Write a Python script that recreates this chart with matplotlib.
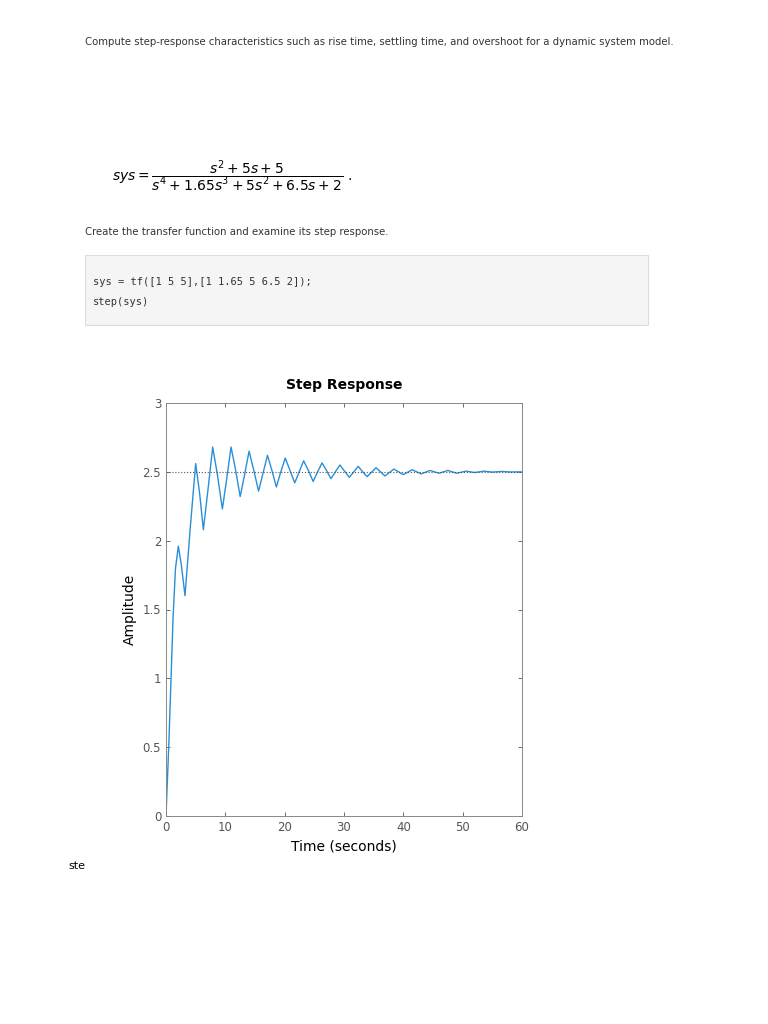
import numpy as np
import matplotlib.pyplot as plt
from matplotlib.patches import Rectangle

# step response (peaks, troughs and crossings)
t = [0, 0.5, 1.2, 1.6, 2.08, 2.6, 3.2, 4.1, 5.0, 5.65, 6.3, 7.1, 7.87, 8.7, 9.5, 10.2,
     10.96, 11.7, 12.5, 13.25, 14.0, 14.8, 15.6, 16.35, 17.1, 17.85, 18.6, 19.35, 20.1,
     20.9, 21.7, 22.45, 23.2, 24.0, 24.8, 25.55, 26.3, 27.05, 27.8, 28.55, 29.3, 30.1,
     30.9, 31.65, 32.4, 33.15, 33.9, 35.4, 36.9, 38.4, 40.0, 41.5, 43.0, 44.5, 46.0,
     47.5, 49.0, 50.6, 52.0, 53.6, 55.0, 56.6, 58.0, 60.0]
amp = [0, 0.55, 1.45, 1.8, 1.96, 1.82, 1.60, 2.1, 2.56, 2.35, 2.08, 2.38, 2.68, 2.47, 2.23, 2.44,
       2.68, 2.52, 2.32, 2.48, 2.65, 2.51, 2.36, 2.49, 2.62, 2.51, 2.39, 2.50, 2.60,
       2.51, 2.42, 2.50, 2.58, 2.51, 2.43, 2.50, 2.565, 2.51, 2.45, 2.50, 2.55, 2.505,
       2.46, 2.50, 2.54, 2.50, 2.465, 2.53, 2.47, 2.52, 2.48, 2.515, 2.485, 2.51, 2.49,
       2.51, 2.49, 2.505, 2.495, 2.505, 2.498, 2.503, 2.499, 2.5]
xticks = [0, 10, 20, 30, 40, 50, 60]
yticks = [0, 0.5, 1, 1.5, 2, 2.5, 3]

W, H = 768, 1024
fig = plt.figure(figsize=(W / 100, H / 100), dpi=100)
fig.patch.set_facecolor('white')

def fx(px):
    return px / W

def fy(py):
    return 1 - py / H

fig.text(fx(85), fy(42), 'Compute step-response characteristics such as rise time, settling time, and overshoot for a dynamic system model.',
         fontsize=7.3, color='#333333', va='center', family='Liberation Sans Narrow')
fig.text(fx(112), fy(176), r'$sys = \dfrac{s^2+5s+5}{s^4+1.65s^3+5s^2+6.5s+2}\ .$',
         fontsize=10, va='center', family='Liberation Serif')
fig.text(fx(85), fy(232), 'Create the transfer function and examine its step response.',
         fontsize=7.3, color='#333333', va='center', family='Liberation Sans Narrow')

fig.patches.append(Rectangle((fx(85), fy(325)), fx(648 - 85), (325 - 255) / H,
                             transform=fig.transFigure, facecolor='#f5f5f5',
                             edgecolor='#dddddd', lw=0.8))
fig.text(fx(93), fy(282), 'sys = tf([1 5 5],[1 1.65 5 6.5 2]);', fontsize=7.5,
         family='DejaVu Sans Mono', color='#333333', va='center')
fig.text(fx(93), fy(302), 'step(sys)', fontsize=7.5,
         family='DejaVu Sans Mono', color='#333333', va='center')

ax = fig.add_axes([fx(166), fy(816), fx(522 - 166), (816 - 403) / H])
ax.plot(t, amp, color='#2a8fd6', lw=1.0)
ax.axhline(2.5, color='#555555', ls=':', lw=0.8)
ax.set_xlim(0, 60)
ax.set_ylim(0, 3)
ax.set_xticks(xticks)
ax.set_yticks(yticks)
ax.set_yticklabels(['0', '0.5', '1', '1.5', '2', '2.5', '3'])
ax.tick_params(direction='in', top=True, right=True, labelsize=8.5, colors='#555555',
               length=3, width=0.6)
for s in ax.spines.values():
    s.set_color('#888888')
    s.set_linewidth(0.7)
ax.set_title('Step Response', fontsize=10, fontweight='bold', pad=10,
             family='Liberation Sans Narrow')
ax.set_xlabel('Time (seconds)', fontsize=10, family='Liberation Sans Narrow')
ax.set_ylabel('Amplitude', fontsize=10)

fig.text(fx(68), fy(866), 'ste', fontsize=8, va='center', family='Liberation Sans Narrow')

fig.savefig('out.png', dpi=100)
